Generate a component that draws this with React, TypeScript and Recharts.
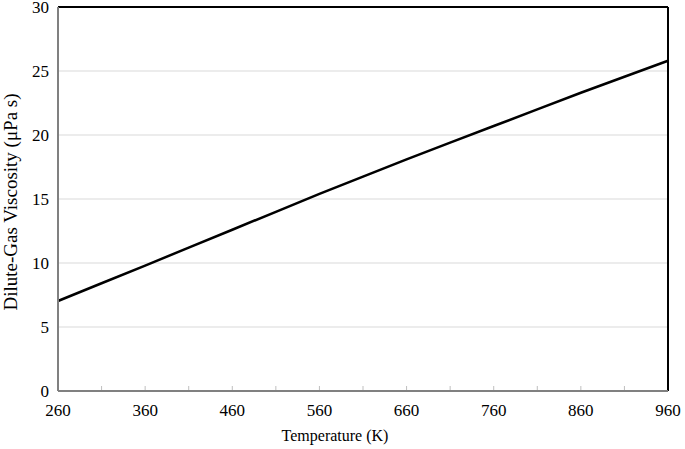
import { LineChart, Line, XAxis, YAxis, CartesianGrid, ReferenceLine, Label } from "recharts";

const temperatures = [260, 310, 360, 410, 460, 510, 560, 610, 660, 710, 760, 810, 860, 910, 960];
const viscosity = [7.03, 8.42, 9.8, 11.2, 12.6, 14.0, 15.4, 16.75, 18.1, 19.4, 20.7, 22.0, 23.3, 24.55, 25.8];
const xTicks = [260, 310, 360, 410, 460, 510, 560, 610, 660, 710, 760, 810, 860, 910, 960];
const yTicks = [0, 5, 10, 15, 20, 25, 30];

const data = temperatures.map((t, i) => ({ t, mu: viscosity[i] }));

const font = "'Liberation Serif', 'Times New Roman', serif";

const XTick = ({ x, y, payload }: any) => {
  const v = payload.value;
  const labelled = (v - 260) % 100 === 0;
  return (
    <g>
      {v !== 260 && v !== 960 && <line x1={x} y1={y - 1} x2={x} y2={y - 5} stroke="#bfbfbf" strokeWidth={1} />}
      {labelled && (
        <text x={x} y={y + 25} textAnchor="middle" fill="#000" fontSize={17} fontFamily={font}>
          {v}
        </text>
      )}
    </g>
  );
};

export default function App() {
  return (
    <div style={{ position: "absolute", left: 0, top: 0, width: 685, height: 449, background: "#fff" }}>
      <LineChart width={685} height={449} data={data} margin={{ top: 7, right: 17, bottom: 8, left: 0 }}>
        <CartesianGrid vertical={false} stroke="#d9d9d9" strokeWidth={1} />
        <XAxis
          dataKey="t"
          type="number"
          domain={[260, 960]}
          ticks={xTicks}
          interval={0}
          tick={<XTick />}
          tickSize={0}
          tickMargin={0}
          tickLine={false}
          height={50}
          stroke="#808080"
          strokeWidth={2}
        >
          <Label
            value="Temperature (K)"
            position="insideBottom"
            offset={0}
            dx={-28}
            style={{ fontSize: 16, fontFamily: font, fill: "#000" }}
          />
        </XAxis>
        <YAxis
          type="number"
          domain={[0, 30]}
          ticks={yTicks}
          interval={0}
          width={58}
          tickSize={0}
          tickMargin={9}
          tickLine={false}
          stroke="#808080"
          strokeWidth={2}
          tick={{ fill: "#000", fontSize: 17, fontFamily: font }}
        >
          <Label
            value="Dilute-Gas Viscosity (μPa s)"
            angle={-90}
            position="insideLeft"
            offset={0}
            dx={10}
            dy={3}
            style={{ fontSize: 19, fontFamily: font, fill: "#000", textAnchor: "middle" }}
          />
        </YAxis>
        <ReferenceLine y={30} stroke="#000" strokeWidth={2} />
        <ReferenceLine x={960} stroke="#000" strokeWidth={2} />
        <Line
          type="linear"
          dataKey="mu"
          stroke="#000"
          strokeWidth={2.5}
          dot={false}
          isAnimationActive={false}
        />
      </LineChart>
    </div>
  );
}
